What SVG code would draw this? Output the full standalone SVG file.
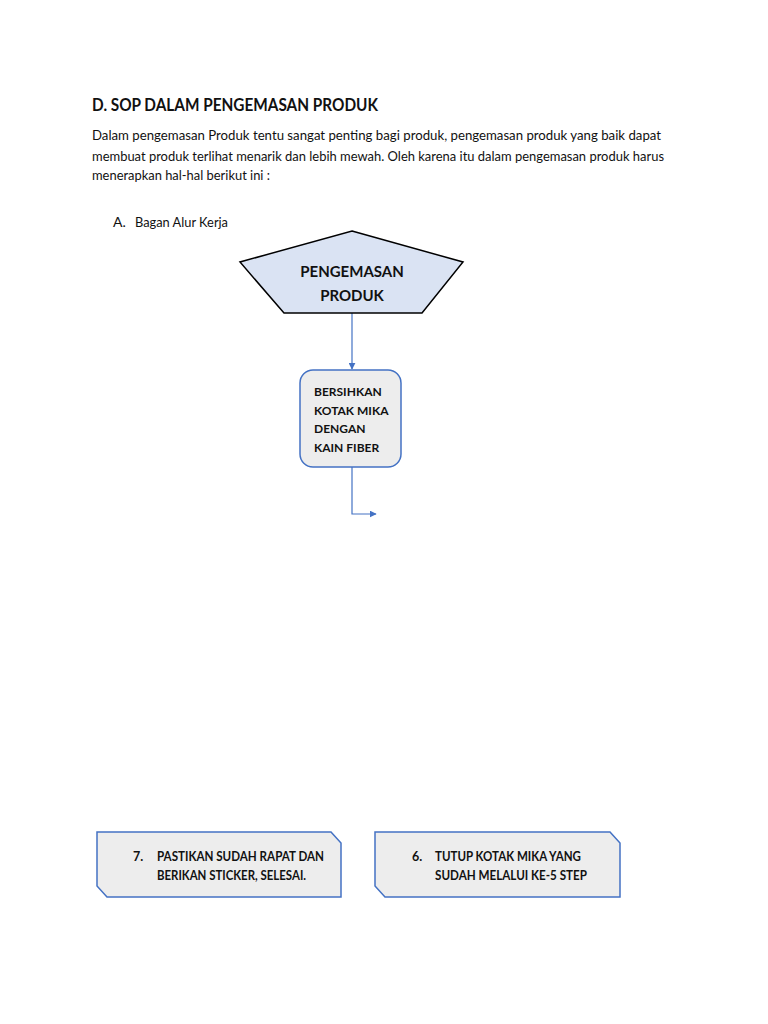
<svg xmlns="http://www.w3.org/2000/svg" width="768" height="1024" viewBox="0 0 768 1024">
<style>
text{font-family:Lato,"Open Sans","Liberation Sans",sans-serif;fill:#111}
.t{font-size:16.5px;font-weight:bold}
.b{font-size:14px}
.n{font-size:12px;font-weight:bold}
.p{font-size:15px;font-weight:bold}
.s{font-size:12.5px;font-weight:bold}
.c{stroke:#4472c4;stroke-width:1.2;fill:none}
</style>
<defs>
<marker id="ah" viewBox="0 0 10 10" refX="9" refY="5" markerWidth="7" markerHeight="7" orient="auto" markerUnits="userSpaceOnUse"><path d="M0,0L10,5L0,10z" fill="#4472c4"/></marker>
</defs>
<rect width="768" height="1024" fill="#fff"/>
<g id="header">
<text class="t" x="92" y="111" textLength="286" lengthAdjust="spacingAndGlyphs">D. SOP DALAM PENGEMASAN PRODUK</text>
<text class="b" x="92" y="140" textLength="569" lengthAdjust="spacingAndGlyphs">Dalam pengemasan Produk tentu sangat penting bagi produk, pengemasan produk yang baik dapat</text>
<text class="b" x="92" y="161" textLength="572" lengthAdjust="spacingAndGlyphs">membuat produk terlihat menarik dan lebih mewah. Oleh karena itu dalam pengemasan produk harus</text>
<text class="b" x="92" y="180" textLength="178" lengthAdjust="spacingAndGlyphs">menerapkan hal-hal berikut ini :</text>
<text class="b" x="113" y="227">A.</text>
<text class="b" x="135" y="227" textLength="93" lengthAdjust="spacingAndGlyphs">Bagan Alur Kerja</text>
</g>
<g id="connectors">
<line class="c" x1="352" y1="313" x2="352" y2="369" marker-end="url(#ah)"/>
<polyline class="c" points="352,467 352,514 376,514" marker-end="url(#ah)"/>
</g>
<g id="node-pengemasan">
<polygon points="352,231 463,262 422,313 284,313 240,262" fill="#dae3f3" stroke="#000" stroke-width="1.5"/>
<text class="p" x="352" y="277" text-anchor="middle">PENGEMASAN</text>
<text class="p" x="352" y="301" text-anchor="middle">PRODUK</text>
</g>
<g id="node-bersihkan">
<rect x="300" y="370" width="101" height="97" rx="13" fill="#ededed" stroke="#4472c4" stroke-width="1.5"/>
<text class="n" x="314" y="396">BERSIHKAN</text>
<text class="n" x="314" y="415">KOTAK MIKA</text>
<text class="n" x="314" y="433">DENGAN</text>
<text class="n" x="314" y="452">KAIN FIBER</text>
</g>
<g id="node-7">
<polygon points="97,832 331,832 341,843 341,897 107,897 97,886" fill="#ededed" stroke="#4472c4" stroke-width="1.5"/>
<text class="s" x="133" y="861">7.</text>
<text class="s" x="157" y="861" textLength="167" lengthAdjust="spacingAndGlyphs">PASTIKAN SUDAH RAPAT DAN</text>
<text class="s" x="157" y="880" textLength="149" lengthAdjust="spacingAndGlyphs">BERIKAN STICKER, SELESAI.</text>
</g>
<g id="node-6">
<polygon points="375,832 610,832 620,843 620,897 385,897 375,886" fill="#ededed" stroke="#4472c4" stroke-width="1.5"/>
<text class="s" x="412" y="861">6.</text>
<text class="s" x="435" y="861" textLength="146" lengthAdjust="spacingAndGlyphs">TUTUP KOTAK MIKA YANG</text>
<text class="s" x="435" y="880" textLength="152" lengthAdjust="spacingAndGlyphs">SUDAH MELALUI KE-5 STEP</text>
</g>
</svg>
